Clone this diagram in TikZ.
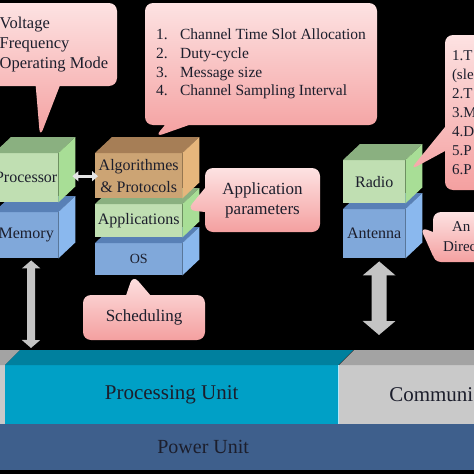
\documentclass[tikz,border=0pt]{standalone}
\usepackage{fontspec}
\setmainfont{Liberation Serif}
\usetikzlibrary{shapes.callouts,arrows.meta,calc}

\definecolor{pinktop}{RGB}{253,226,226}
\definecolor{pinkbot}{RGB}{244,160,160}
\definecolor{inktext}{RGB}{28,30,44}
\definecolor{greenfront}{RGB}{192,223,178}
\definecolor{greentop}{RGB}{138,176,128}
\definecolor{greenside}{RGB}{168,222,150}
\definecolor{bluefront}{RGB}{128,168,218}
\definecolor{bluetop}{RGB}{88,128,182}
\definecolor{blueside}{RGB}{138,184,238}
\definecolor{brownfront}{RGB}{204,164,116}
\definecolor{browntop}{RGB}{166,126,86}
\definecolor{brownside}{RGB}{230,182,124}
\definecolor{procfront}{RGB}{0,160,198}
\definecolor{proctop}{RGB}{0,128,158}
\definecolor{commfront}{RGB}{201,201,201}
\definecolor{commtop}{RGB}{163,163,163}
\definecolor{powerblue}{RGB}{62,95,140}
\definecolor{arrowgray}{RGB}{196,196,196}

\newcommand{\boxfaces}[3]{% node, top colour, side colour
	\fill[#2] (#1.north west) -- ++(17,-16) -- ($(#1.north east)+(17,-16)$) -- (#1.north east) -- cycle;
	\fill[#3] (#1.north east) -- ++(17,-16) -- ($(#1.south east)+(17,-16)$) -- (#1.south east) -- cycle;
}

\tikzset{
	bubble/.style={rectangle callout, rounded corners=8pt, top color=pinktop, bottom color=pinkbot,
		draw=none, text=inktext, inner sep=0pt, callout pointer width=24pt},
	blockface/.style={anchor=north west, inner sep=0pt, text=inktext, align=center,
		font=\fontsize{16}{22}\selectfont},
	unitface/.style={anchor=north west, inner sep=0pt, text=inktext, font=\fontsize{21}{24}\selectfont},
	bigarrow/.style={line width=8pt, arrowgray, {Triangle[length=8pt,width=18pt]}-{Triangle[length=8pt,width=18pt]}},
	widearrow/.style={line width=15pt, arrowgray, {Triangle[length=14pt,width=32pt]}-{Triangle[length=14pt,width=32pt]}},
	smallarrow/.style={line width=3pt, white!80!gray, {Triangle[length=6pt,width=10pt]}-{Triangle[length=6pt,width=10pt]}}
}

\begin{document}
\begin{tikzpicture}[x=1pt,y=-1pt]
	\useasboundingbox (0,0) rectangle (474,474);
	\clip (0,0) rectangle (474,474);
	\fill[black] (0,0) rectangle (474,474);

	% units at the bottom
	\fill[commfront] (0,365) rectangle (5,424);
	\fill[commtop] (0,350) -- (20,350) -- (5,365) -- (0,365) -- cycle;
	\node[unitface, fill=procfront, minimum width=333pt, minimum height=59pt] (pu) at (5,365) {Processing Unit};
	\fill[proctop] (pu.north west) -- ++(15,-15) -- ($(pu.north east)+(15,-15)$) -- (pu.north east) -- cycle;
	\node[unitface, fill=commfront, minimum width=278pt, minimum height=59pt] (cu) at (339,365) {Communication Unit};
	\fill[commtop] (cu.north west) -- ++(15,-15) -- ($(cu.north east)+(15,-15)$) -- (cu.north east) -- cycle;
	\draw[white!70!cyan, line width=1.2pt] (pu.north east) -- (pu.south east);
	\node[unitface, fill=powerblue, minimum width=542pt, minimum height=46pt,
		font=\fontsize{20}{24}\selectfont] (pwr) at (-68,424) {Power Unit};

	% processor and memory
	\node[blockface, fill=bluefront, minimum width=64pt, minimum height=46pt] (mem) at (-6,212) {Memory};
	\boxfaces{mem}{bluetop}{blueside}
	\node[blockface, fill=greenfront, minimum width=64pt, minimum height=49pt] (proc) at (-6,153) {Processor};
	\boxfaces{proc}{greentop}{greenside}

	% software stack
	\node[blockface, fill=bluefront, minimum width=87pt, minimum height=32pt,
		font=\fontsize{14}{18}\selectfont] (os) at (95,243) {OS};
	\boxfaces{os}{bluetop}{blueside}
	\node[blockface, fill=greenfront, minimum width=87pt, minimum height=33pt] (app) at (95,204) {Applications};
	\boxfaces{app}{greentop}{greenside}
	\node[blockface, fill=brownfront, minimum width=87pt, minimum height=45pt] (alg) at (95,153) {Algorithmes\\\& Protocols};
	\boxfaces{alg}{browntop}{brownside}

	% radio and antenna
	\node[blockface, fill=bluefront, minimum width=62pt, minimum height=49pt] (ant) at (343,209) {Antenna};
	\boxfaces{ant}{bluetop}{blueside}
	\node[blockface, fill=greenfront, minimum width=62pt, minimum height=43pt] (radio) at (343,160) {Radio};
	\boxfaces{radio}{greentop}{greenside}

	% arrows
	\draw[bigarrow] ($(mem.south)+(5,2)$) -- ($(pu.north west)+(26,-17)$);
	\draw[widearrow] ($(ant.south)+(5,3)$) -- ($(cu.north west)+(40,-30)$);
	\draw[smallarrow] ($(proc.east)+(14,-1.5)$) -- ($(alg.west)+(3,0.5)$);

	% call-outs
	\node[bubble, minimum width=126pt, minimum height=83pt, align=left,
		font=\fontsize{16.5}{20}\selectfont, callout absolute pointer={(40,137)}] (volt) at (54,44.5)
		{Voltage\\Frequency\\Operating Mode};
	\node[bubble, minimum width=232pt, minimum height=122pt, align=left,
		font=\fontsize{15.5}{18.7}\selectfont, callout absolute pointer={(155,137)}] (mac) at (261,64)
		{\makebox[24pt][l]{1.}Channel Time Slot Allocation\\
		 \makebox[24pt][l]{2.}Duty-cycle\\
		 \makebox[24pt][l]{3.}Message size\\
		 \makebox[24pt][l]{4.}Channel Sampling Interval};
	\node[bubble, minimum width=60pt, minimum height=155pt, text width=46pt, align=left,
		font=\fontsize{15}{18.9}\selectfont, callout absolute pointer={(410,170)}] (radiopar) at (475,112.5)
		{1.T\\(sle\\2.T\\3.M\\4.D\\5.P\\6.P};
	\node[bubble, minimum width=87pt, minimum height=50pt, text width=67pt, align=left,
		font=\fontsize{15}{20}\selectfont, callout absolute pointer={(420,227)}] (antpar) at (476.5,237)
		{\hspace*{9pt}An\\Direc};
	\node[bubble, minimum width=115pt, minimum height=64pt, align=center,
		font=\fontsize{17}{20}\selectfont, callout absolute pointer={(187,210)}] (apppar) at (262.5,200)
		{Application\\parameters};
	\node[bubble, minimum width=122pt, minimum height=45pt,
		font=\fontsize{17}{20}\selectfont, callout absolute pointer={(133,275)}] (sched) at (144,317.5)
		{Scheduling};
\end{tikzpicture}
\end{document}
